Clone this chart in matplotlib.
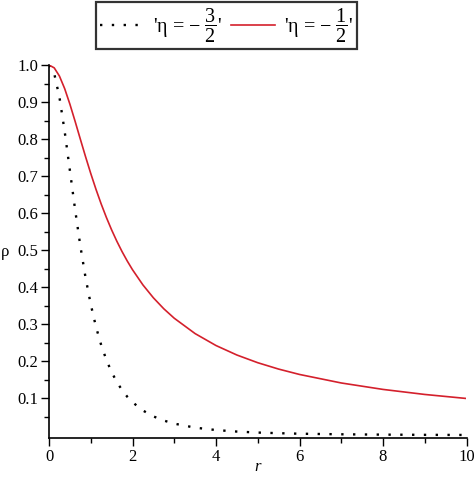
import matplotlib
matplotlib.use("Agg")
import matplotlib.pyplot as plt
from matplotlib.ticker import MultipleLocator, FixedLocator

plt.rcParams['font.family'] = ['Liberation Serif', 'DejaVu Serif']
plt.rcParams['mathtext.fontset'] = 'custom'
plt.rcParams['mathtext.rm'] = 'Liberation Serif'
plt.rcParams['mathtext.it'] = 'Liberation Serif:italic'

r = [0, 0.125, 0.25, 0.375, 0.5, 0.625, 0.75, 0.875, 1.0, 1.125, 1.25, 1.375,
     1.5, 1.625, 1.75, 1.875, 2.0, 2.25, 2.5, 2.75, 3.0, 3.5, 4.0, 4.5, 5.0,
     5.5, 6.0, 7.0, 8.0, 9.0, 10.0]
rho_a = [1.0, 0.9770, 0.9131, 0.8209, 0.7155, 0.6098, 0.5120, 0.4262, 0.3536,
         0.2932, 0.2438, 0.2035, 0.1707, 0.1440, 0.1221, 0.1042, 0.0894, 0.0670,
         0.0512, 0.0399, 0.0316, 0.0207, 0.0143, 0.0102, 0.0075, 0.0058, 0.0044,
         0.0028, 0.0019, 0.00135, 0.0010]
rho_b = [1.0, 0.9923, 0.9701, 0.9363, 0.8944, 0.8480, 0.8000, 0.7526, 0.7071,
         0.6644, 0.6247, 0.5882, 0.5547, 0.5241, 0.4961, 0.4706, 0.4472, 0.4061,
         0.3714, 0.3417, 0.3162, 0.2747, 0.2425, 0.2169, 0.1961, 0.1789, 0.1644,
         0.1414, 0.1240, 0.1104, 0.0995]
labels = ["'η = $-\\ \\dfrac{3}{2}$'", "'η = $-\\ \\dfrac{1}{2}$'"]
yticks = [0.1, 0.2, 0.3, 0.4, 0.5, 0.6, 0.7, 0.8, 0.9, 1.0]
xticks = [0, 2, 4, 6, 8, 10]

fig = plt.figure(figsize=(4.74, 4.79), dpi=100)
ax = fig.add_axes([49/474, 1 - 438.3/479, (466.5 - 49)/474, (438.3 - 65)/479])

l1, = ax.plot(r, rho_a, color='black', linestyle=(0, (1, 4)), linewidth=1.7)
l2, = ax.plot(r, rho_b, color='#d4202c', linewidth=1.2)

ax.set_xlim(0, 10)
ax.set_ylim(-0.008, 1.0)
ax.spines['top'].set_visible(False)
ax.spines['right'].set_visible(False)
for s in ('left', 'bottom'):
    ax.spines[s].set_linewidth(1.2)
ax.xaxis.set_major_locator(FixedLocator(xticks))
ax.xaxis.set_minor_locator(MultipleLocator(1))
ax.yaxis.set_major_locator(FixedLocator(yticks))
ax.yaxis.set_minor_locator(FixedLocator([0.05 + 0.1 * i for i in range(10)]))
ax.set_yticklabels([f"{v:.1f}" for v in yticks])
ax.tick_params(which='major', direction='out', length=5.5, width=1.0, labelsize=12, pad=2)
ax.tick_params(which='minor', direction='out', length=3.5, width=1.0)

ax.set_xlabel('r', style='italic', fontsize=12)
ax.xaxis.set_label_coords(0.5, -0.055)
fig.text(5/474, 1 - 252/479, 'ρ', fontsize=12, ha='center', va='center')

leg = fig.legend([l1, l2], labels, loc='center', bbox_to_anchor=(226.5/474, 1 - 25.5/479),
                 ncol=2, frameon=True, fancybox=False, fontsize=14.5,
                 handlelength=2.2, columnspacing=0.4, handletextpad=0.45,
                 borderpad=0.2, borderaxespad=0)
leg.get_frame().set_edgecolor('black')
leg.get_frame().set_linewidth(1.6)

fig.savefig('out.png', dpi=100)
